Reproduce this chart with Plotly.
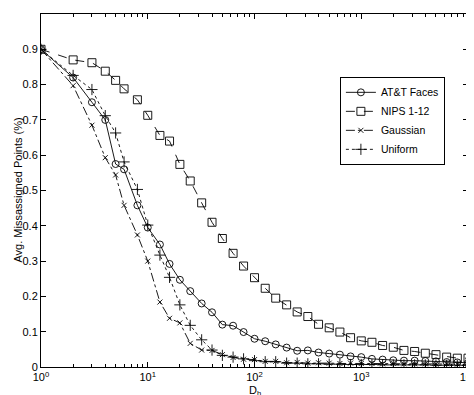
import plotly.graph_objects as go

x_vals = [1, 2, 3, 4, 5, 6, 8, 10, 13, 16, 20, 25, 32, 40, 50, 63, 79, 100, 126, 158,
          200, 251, 316, 398, 501, 631, 794, 1000, 1259, 1585, 1995, 2512, 3162, 3981,
          5012, 6310, 7943, 10000]

att_faces = [0.90, 0.82, 0.75, 0.70, 0.575, 0.56, 0.458, 0.395, 0.347, 0.292, 0.247, 0.215,
             0.18, 0.155, 0.12, 0.117, 0.099, 0.08, 0.073, 0.064, 0.055, 0.046, 0.047, 0.041,
             0.038, 0.035, 0.030, 0.028, 0.023, 0.021, 0.019, 0.018, 0.018, 0.017, 0.016,
             0.014, 0.013, 0.012]

nips = [0.90, 0.87, 0.862, 0.838, 0.812, 0.788, 0.757, 0.713, 0.656, 0.640, 0.574, 0.527,
        0.465, 0.41, 0.364, 0.322, 0.286, 0.253, 0.223, 0.195, 0.176, 0.156, 0.143, 0.121,
        0.111, 0.099, 0.083, 0.074, 0.070, 0.061, 0.056, 0.047, 0.044, 0.039, 0.035,
        0.028, 0.025, 0.025]

gaussian = [0.90, 0.797, 0.685, 0.593, 0.544, 0.458, 0.374, 0.30, 0.184, 0.138, 0.125, 0.067,
            0.048, 0.047, 0.035, 0.027, 0.022, 0.021, 0.016, 0.016, 0.012, 0.013, 0.011,
            0.012, 0.011, 0.010, 0.011, 0.010, 0.010, 0.009, 0.010, 0.009, 0.009, 0.009,
            0.008, 0.009, 0.008, 0.008]

uniform = [0.90, 0.826, 0.786, 0.712, 0.663, 0.581, 0.503, 0.402, 0.317, 0.254, 0.176, 0.118,
           0.077, 0.048, 0.033, 0.028, 0.023, 0.018, 0.015, 0.015, 0.011, 0.011, 0.009,
           0.009, 0.008, 0.008, 0.007, 0.007, 0.007, 0.006, 0.006, 0.006, 0.006, 0.006,
           0.005, 0.005, 0.005, 0.005]

x_tickvals = [1, 10, 100, 1000, 10000]
x_ticktext = ["10<sup>0</sup>", "10<sup>1</sup>", "10<sup>2</sup>", "10<sup>3</sup>", "10<sup>4</sup>"]
y_tickvals = [0, 0.1, 0.2, 0.3, 0.4, 0.5, 0.6, 0.7, 0.8, 0.9, 1]
y_ticktext = ["0", "0.1", "0.2", "0.3", "0.4", "0.5", "0.6", "0.7", "0.8", "0.9", "1"]

series = [
    ("AT&T Faces", att_faces, "solid", "circle-open", 7),
    ("NIPS 1-12", nips, "dash", "square-open", 8),
    ("Gaussian", gaussian, "dashdot", "x-thin-open", 5),
    ("Uniform", uniform, "dot", "cross-thin-open", 8),
]

fig = go.Figure()
for name, vals, dash, sym, size in series:
    fig.add_trace(go.Scatter(
        x=x_vals, y=vals, name=name, mode="lines+markers",
        line=dict(color="black", width=0.9, dash=dash),
        marker=dict(symbol=sym, size=size, color="black",
                    line=dict(color="black", width=0.9)),
    ))

font = "Liberation Sans, Arial, Helvetica, sans-serif"
fig.update_layout(
    width=474, height=395,
    margin=dict(l=33, r=7, t=5, b=36),
    paper_bgcolor="white", plot_bgcolor="white",
    font=dict(family=font, size=11, color="black"),
    showlegend=True,
    legend=dict(x=0.70, y=0.822, xanchor="left", yanchor="top",
                bgcolor="white", bordercolor="black", borderwidth=1,
                font=dict(size=10.5), tracegroupgap=0, itemwidth=30),
    xaxis=dict(type="log", range=[0, 4], tickvals=x_tickvals, ticktext=x_ticktext,
               ticks="inside", ticklen=5, tickcolor="black", tickwidth=1,
               showgrid=False, zeroline=False,
               showline=True, linecolor="black", linewidth=1, mirror="allticks",
               ticklabeloverflow="allow",
               minor=dict(ticks="inside", ticklen=3, tickcolor="black", tickwidth=1,
                          dtick="D1", showgrid=False),
               tickfont=dict(size=11)),
    yaxis=dict(range=[0, 1], tickvals=y_tickvals, ticktext=y_ticktext,
               ticks="inside", ticklen=5, tickcolor="black", tickwidth=1,
               showgrid=False, zeroline=False,
               showline=True, linecolor="black", linewidth=1, mirror="allticks",
               tickfont=dict(size=11)),
    annotations=[
        dict(text="D<sub>h</sub>", xref="paper", yref="paper", x=0.5, y=-0.093,
             xanchor="center", yanchor="bottom", showarrow=False, font=dict(size=11)),
        dict(text="Avg. Missassigned Points (%)", xref="paper", yref="paper",
             x=-0.056, y=0.5, xanchor="center", yanchor="middle", textangle=-90,
             showarrow=False, font=dict(size=11)),
    ],
)

fig.write_html("out.html")
